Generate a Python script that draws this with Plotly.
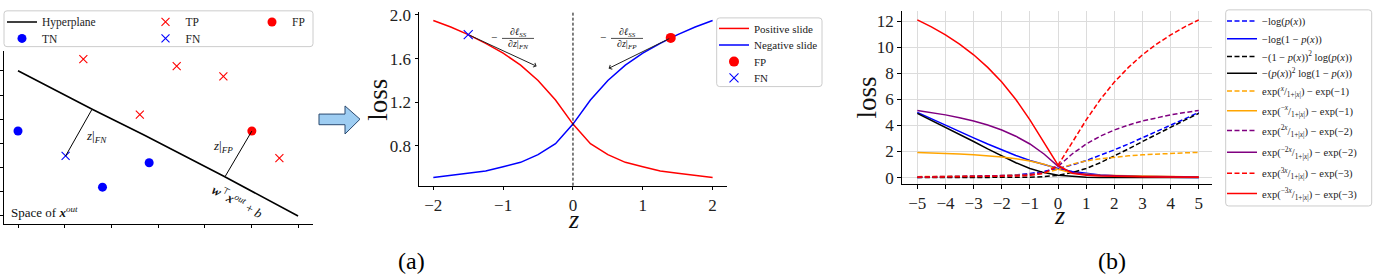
import plotly.graph_objects as go

W, H = 1376, 277
SERIF = "Liberation Serif"


def px(x):
    return x / W


def py(y):
    return 1 - y / H


# ---------------- panel 1 : space of x_out ----------------
hyper_x = [0.0, 1.6, 2.7, 4.4, 6.0]
hyper_y = [6.0, 4.4, 3.35, 1.65, 0.0]
tp_x = [1.40, 3.40, 4.40, 2.61, 5.60]
tp_y = [6.48, 6.19, 5.77, 4.19, 2.39]
tn_x = [0.0, 2.81, 1.81]
tn_y = [3.51, 2.20, 1.19]
fn_x = [1.02]
fn_y = [2.48]
fp_x = [5.01]
fp_y = [3.51]
fn_foot_x, fn_foot_y = 1.58, 4.39
fp_foot_x, fp_foot_y = 4.44, 1.64

# ---------------- panel (a) ----------------
z_a = [-2.0, -1.75, -1.5, -1.25, -1.0, -0.75, -0.5, -0.25, 0.0,
       0.25, 0.5, 0.75, 1.0, 1.25, 1.5, 1.75, 2.0]
pos_slide = [1.95, 1.89, 1.82, 1.74, 1.65, 1.54, 1.40, 1.22, 1.00,
             0.82, 0.72, 0.65, 0.61, 0.57, 0.55, 0.53, 0.51]
neg_slide = [0.51, 0.53, 0.55, 0.57, 0.61, 0.65, 0.72, 0.82, 1.00,
             1.22, 1.40, 1.54, 1.65, 1.74, 1.82, 1.89, 1.95]
fp_z, fp_loss = [1.4], [1.79]
fn_z, fn_loss = [-1.5], [1.82]
grad_head_z = [-0.52, 0.51]
grad_head_loss = [1.53, 1.51]
grad_tail_z = [fn_z[0], fp_z[0]]
grad_tail_loss = [fn_loss[0], fp_loss[0]]

# ---------------- panel (b) ----------------
z_b = [-5.0, -4.5, -4.0, -3.5, -3.0, -2.5, -2.0, -1.5, -1.0, -0.5, 0.0,
       0.5, 1.0, 1.5, 2.0, 2.5, 3.0, 3.5, 4.0, 4.5, 5.0]
neg_log_p = [0.01, 0.01, 0.02, 0.03, 0.05, 0.08, 0.13, 0.20, 0.31, 0.47, 0.69,
             0.97, 1.31, 1.70, 2.13, 2.58, 3.05, 3.53, 4.02, 4.51, 5.01]
neg_log_1mp = [5.01, 4.51, 4.02, 3.53, 3.05, 2.58, 2.13, 1.70, 1.31, 0.97, 0.69,
               0.47, 0.31, 0.20, 0.13, 0.08, 0.05, 0.03, 0.02, 0.01, 0.01]
focal_p = [0.00, 0.00, 0.00, 0.00, 0.00, 0.00, 0.00, 0.01, 0.02, 0.07, 0.17,
           0.38, 0.70, 1.14, 1.65, 2.20, 2.77, 3.33, 3.87, 4.41, 4.94]
focal_1mp = [4.94, 4.41, 3.87, 3.33, 2.77, 2.20, 1.65, 1.14, 0.70, 0.38, 0.17,
             0.07, 0.02, 0.01, 0.00, 0.00, 0.00, 0.00, 0.00, 0.00, 0.00]
exp1_pos = [0.07, 0.07, 0.08, 0.09, 0.10, 0.12, 0.15, 0.18, 0.24, 0.35, 0.63,
            1.03, 1.28, 1.45, 1.58, 1.67, 1.75, 1.81, 1.86, 1.90, 1.93]
exp1_neg = [1.93, 1.90, 1.86, 1.81, 1.75, 1.67, 1.58, 1.45, 1.28, 1.03, 0.63,
            0.35, 0.24, 0.18, 0.15, 0.12, 0.10, 0.09, 0.08, 0.07, 0.07]
exp2_pos = [0.05, 0.06, 0.07, 0.08, 0.09, 0.10, 0.13, 0.17, 0.23, 0.38, 0.86,
            1.81, 2.58, 3.18, 3.66, 4.04, 4.35, 4.60, 4.82, 5.00, 5.16]
exp2_neg = [5.16, 5.00, 4.82, 4.60, 4.35, 4.04, 3.66, 3.18, 2.58, 1.81, 0.86,
            0.38, 0.23, 0.17, 0.13, 0.10, 0.09, 0.08, 0.07, 0.06, 0.05]
exp3_pos = [0.03, 0.04, 0.04, 0.05, 0.06, 0.07, 0.09, 0.12, 0.17, 0.32, 0.95,
            2.67, 4.43, 6.00, 7.34, 8.47, 9.44, 10.26, 10.97, 11.59, 12.13]
exp3_neg = [12.13, 11.59, 10.97, 10.26, 9.44, 8.47, 7.34, 6.00, 4.43, 2.67, 0.95,
            0.32, 0.17, 0.12, 0.09, 0.07, 0.06, 0.05, 0.04, 0.04, 0.03]

frac = lambda num: "exp(<sup>%s</sup>/<sub>1+|<i>x</i>|</sub>)" % num
b_series = [
    ("−log(<i>p</i>(<i>x</i>))", neg_log_p, "blue", "dash"),
    ("−log(1 − <i>p</i>(<i>x</i>))", neg_log_1mp, "blue", "solid"),
    ("−(1 − <i>p</i>(<i>x</i>))<sup>2</sup> log(<i>p</i>(<i>x</i>))", focal_p, "black", "dash"),
    ("−(<i>p</i>(<i>x</i>))<sup>2</sup> log(1 − <i>p</i>(<i>x</i>))", focal_1mp, "black", "solid"),
    (frac("<i>x</i>") + " − exp(−1)", exp1_pos, "orange", "dash"),
    (frac("−<i>x</i>") + " − exp(−1)", exp1_neg, "orange", "solid"),
    (frac("2<i>x</i>") + " − exp(−2)", exp2_pos, "purple", "dash"),
    (frac("−2<i>x</i>") + " − exp(−2)", exp2_neg, "purple", "solid"),
    (frac("3<i>x</i>") + " − exp(−3)", exp3_pos, "red", "dash"),
    (frac("−3<i>x</i>") + " − exp(−3)", exp3_neg, "red", "solid"),
]
b_rows = [15, 33.3, 51.7, 69, 87.3, 107.7, 128.3, 150.7, 172.3, 193.3]

fig = go.Figure()
legends = {}


def add_legend(key, xl, yc, size):
    legends[key] = dict(x=px(xl), y=py(yc - 14.5), xanchor="left", yanchor="top",
                        bgcolor="rgba(0,0,0,0)", borderwidth=0,
                        font=dict(family=SERIF, size=size, color="#222"))


def xmark(color, size):
    return dict(symbol="x-thin", size=size, color=color, line=dict(color=color, width=1.1))


# panel 1 traces
fig.add_trace(go.Scatter(x=hyper_x, y=hyper_y, mode="lines", name="Hyperplane",
                         line=dict(color="black", width=1.6), xaxis="x", yaxis="y", legend="legend"))
add_legend("legend", 2, 16, 11.5)
fig.add_trace(go.Scatter(x=tn_x, y=tn_y, mode="markers", name="TN",
                         marker=dict(color="blue", size=9), xaxis="x", yaxis="y", legend="legend2"))
add_legend("legend2", 2, 33, 11.5)
fig.add_trace(go.Scatter(x=tp_x, y=tp_y, mode="markers", name="TP",
                         marker=xmark("red", 8), xaxis="x", yaxis="y", legend="legend3"))
add_legend("legend3", 145.5, 16, 11.5)
fig.add_trace(go.Scatter(x=fn_x, y=fn_y, mode="markers", name="FN",
                         marker=xmark("blue", 8), xaxis="x", yaxis="y", legend="legend4"))
add_legend("legend4", 145.5, 33, 11.5)
fig.add_trace(go.Scatter(x=fp_x, y=fp_y, mode="markers", name="FP",
                         marker=dict(color="red", size=9), xaxis="x", yaxis="y", legend="legend5"))
add_legend("legend5", 252, 16, 11.5)
fig.add_trace(go.Scatter(x=[fn_x[0], fn_foot_x], y=[fn_y[0], fn_foot_y], mode="lines",
                         line=dict(color="black", width=1), showlegend=False, xaxis="x", yaxis="y"))
fig.add_trace(go.Scatter(x=[fp_x[0], fp_foot_x], y=[fp_y[0], fp_foot_y], mode="lines",
                         line=dict(color="black", width=1), showlegend=False, xaxis="x", yaxis="y"))

# panel (a) traces
a_rows = [22.7, 39.7, 57, 73.7]
fig.add_trace(go.Scatter(x=z_a, y=pos_slide, mode="lines", name="Positive slide",
                         line=dict(color="red", width=1.5), xaxis="x2", yaxis="y2", legend="legend6"))
add_legend("legend6", 714, a_rows[0], 11)
fig.add_trace(go.Scatter(x=z_a, y=neg_slide, mode="lines", name="Negative slide",
                         line=dict(color="blue", width=1.5), xaxis="x2", yaxis="y2", legend="legend7"))
add_legend("legend7", 714, a_rows[1], 11)
fig.add_trace(go.Scatter(x=fp_z, y=fp_loss, mode="markers", name="FP",
                         marker=dict(color="red", size=10), xaxis="x2", yaxis="y2", legend="legend8"))
add_legend("legend8", 714, a_rows[2], 11)
fig.add_trace(go.Scatter(x=fn_z, y=fn_loss, mode="markers", name="FN",
                         marker=xmark("blue", 9), xaxis="x2", yaxis="y2", legend="legend9"))
add_legend("legend9", 714, a_rows[3], 11)

# panel (b) traces
for i, (name, vals, color, dash) in enumerate(b_series):
    key = "legend%d" % (10 + i)
    fig.add_trace(go.Scatter(x=z_b, y=vals, mode="lines", name=name,
                             line=dict(color=color, width=1.5,
                                       dash="5px,2.5px" if dash == "dash" else "solid"),
                             xaxis="x3", yaxis="y3", legend=key))
    add_legend(key, 1222, b_rows[i], 10.5)

tickfont = dict(family=SERIF, size=17, color="#222")
ax_common = dict(showline=True, linecolor="black", linewidth=1, ticks="outside", ticklen=3.5,
                 tickcolor="black", zeroline=False, showgrid=False)

layout = dict(
    width=W, height=H, margin=dict(l=0, r=0, t=0, b=0, pad=0), autosize=False,
    font=dict(family=SERIF, size=12, color="#222"),
    paper_bgcolor="white", plot_bgcolor="rgba(0,0,0,0)", showlegend=True,
    xaxis=dict(domain=[px(4), px(313)], range=[-0.3, 6.32], anchor="y",
               tickvals=list(range(7)), showticklabels=False, **ax_common),
    yaxis=dict(domain=[py(225), py(47)], range=[-0.32, 6.8], anchor="x",
               tickvals=list(range(7)), showticklabels=False, **ax_common),
    xaxis2=dict(domain=[px(419), px(727)], range=[-2.205, 2.206], anchor="y2",
                tickvals=[-2, -1, 0, 1, 2], tickfont=tickfont, **ax_common),
    yaxis2=dict(domain=[py(185.7), py(6)], range=[0.436, 2.029], anchor="x2",
                tickvals=[0.8, 1.2, 1.6, 2.0], tickformat=".1f", tickfont=tickfont, **ax_common),
    xaxis3=dict(domain=[px(901.7), px(1212.3)], range=[-5.555, 5.48], anchor="y3",
                tickvals=list(range(-5, 6)), tickfont=tickfont, showline=True, linecolor="black",
                linewidth=1, ticks="outside", ticklen=3.5, tickcolor="black", zeroline=False,
                showgrid=True, gridcolor="#dcdcdc", gridwidth=1.3),
    yaxis3=dict(domain=[py(184.3), py(5)], range=[-0.52, 12.82], anchor="x3",
                tickvals=list(range(0, 13, 2)), tickfont=tickfont, showline=True, linecolor="black",
                linewidth=1, ticks="outside", ticklen=3.5, tickcolor="black", zeroline=False,
                showgrid=True, gridcolor="#dcdcdc", gridwidth=1.3),
)
layout.update(legends)
fig.update_layout(**layout)


def rounded_rect(x0, y0, x1, y1, r=3):
    X0, X1 = px(x0), px(x1)
    Y0, Y1 = py(y0), py(y1)
    rx, ry = r / W, r / H
    return ("M%f,%f L%f,%f Q%f,%f %f,%f L%f,%f Q%f,%f %f,%f L%f,%f Q%f,%f %f,%f "
            "L%f,%f Q%f,%f %f,%f Z" % (
                X0 + rx, Y0, X1 - rx, Y0, X1, Y0, X1, Y0 - ry,
                X1, Y1 + ry, X1, Y1, X1 - rx, Y1,
                X0 + rx, Y1, X0, Y1, X0, Y1 + ry,
                X0, Y0 - ry, X0, Y0, X0 + rx, Y0))


shapes = []
for box in [(4, 5, 313, 42), (716.7, 12.3, 822, 83.3), (1225.7, 4, 1371.7, 206.7)]:
    shapes.append(dict(type="path", path=rounded_rect(*box), xref="paper", yref="paper",
                       fillcolor="white", line=dict(color="#cccccc", width=1), layer="above"))

# big arrow between panels
arrow_pts = [(319, 111.7), (345, 111.7), (345, 103.3), (360, 117), (345, 132.3), (345, 122.7), (319, 122.7)]
path = "M" + " L".join("%f,%f" % (px(a), py(b)) for a, b in arrow_pts) + " Z"
shapes.append(dict(type="path", path=path, xref="paper", yref="paper",
                   fillcolor="#9ecdf2", line=dict(color="#2a4a70", width=1)))

# zero line in panel (a)
shapes.append(dict(type="line", xref="x2", yref="y2 domain", x0=0, x1=0, y0=0, y1=1,
                   line=dict(color="black", width=1, dash="3px,2px")))

# fraction bars
shapes.append(dict(type="line", xref="paper", yref="paper", x0=px(502), x1=px(534),
                   y0=py(33.5), y1=py(33.5), line=dict(color="#222", width=0.8)))
shapes.append(dict(type="line", xref="paper", yref="paper", x0=px(611), x1=px(643),
                   y0=py(33.5), y1=py(33.5), line=dict(color="#222", width=0.8)))
fig.update_layout(shapes=shapes)

ann = []


def text(x, y, t, size, xref="paper", yref="paper", **kw):
    d = dict(x=x, y=y, xref=xref, yref=yref, text=t, showarrow=False,
             xanchor="center", yanchor="middle",
             font=dict(family=SERIF, size=size, color=kw.pop("color", "#111")))
    d.update(kw)
    ann.append(d)


# panel 1 texts
text(1.69, 3.28, "<i>z</i>|<sub><i>FN</i></sub>", 13, "x", "y")
text(4.39, 2.88, "<i>z</i>|<sub><i>FP</i></sub>", 13, "x", "y")
text(-0.19, 0.15, "Space of <b><i>x</i></b><sup><i>out</i></sup>", 13, "x", "y", xanchor="left")
text(4.71, 0.62, "<b><i>w</i></b><sup>⊤</sup><b><i>x</i></b><sup><i>out</i></sup> + <i>b</i>", 13,
     "x", "y", textangle=28)

# panel (a) texts
text(px(378), py(97), "loss", 27, textangle=-90)
text(px(573.3), py(221), "<i>z</i>", 26)
text(px(411.7), py(264), "(a)", 24, color="#000")
for xm, xc, lab in [(494, 518, "FN"), (603.3, 627, "FP")]:
    text(px(xm), py(32), "−", 11)
    text(px(xc), py(27.5), "∂<i>ℓ</i><sub><i>SS</i></sub>", 10)
    text(px(xc), py(39.5), "∂<i>z</i>|<sub><i>%s</i></sub>" % lab, 10)
for i in range(2):
    ann.append(dict(x=grad_head_z[i], y=grad_head_loss[i], xref="x2", yref="y2",
                    ax=grad_tail_z[i], ay=grad_tail_loss[i], axref="x2", ayref="y2",
                    text="", showarrow=True, arrowhead=4, arrowsize=0.9, arrowwidth=1,
                    arrowcolor="#222", standoff=0, startstandoff=0))

# panel (b) texts
text(px(866.7), py(95), "loss", 27, textangle=-90)
text(px(1059), py(217), "<i>z</i>", 26)
text(px(1112.3), py(264), "(b)", 24, color="#000")

fig.update_layout(annotations=ann)
fig.write_html("out.html", config={"displayModeBar": False},
               post_script="document.body.style.margin='0px';document.body.style.overflow='hidden';")
